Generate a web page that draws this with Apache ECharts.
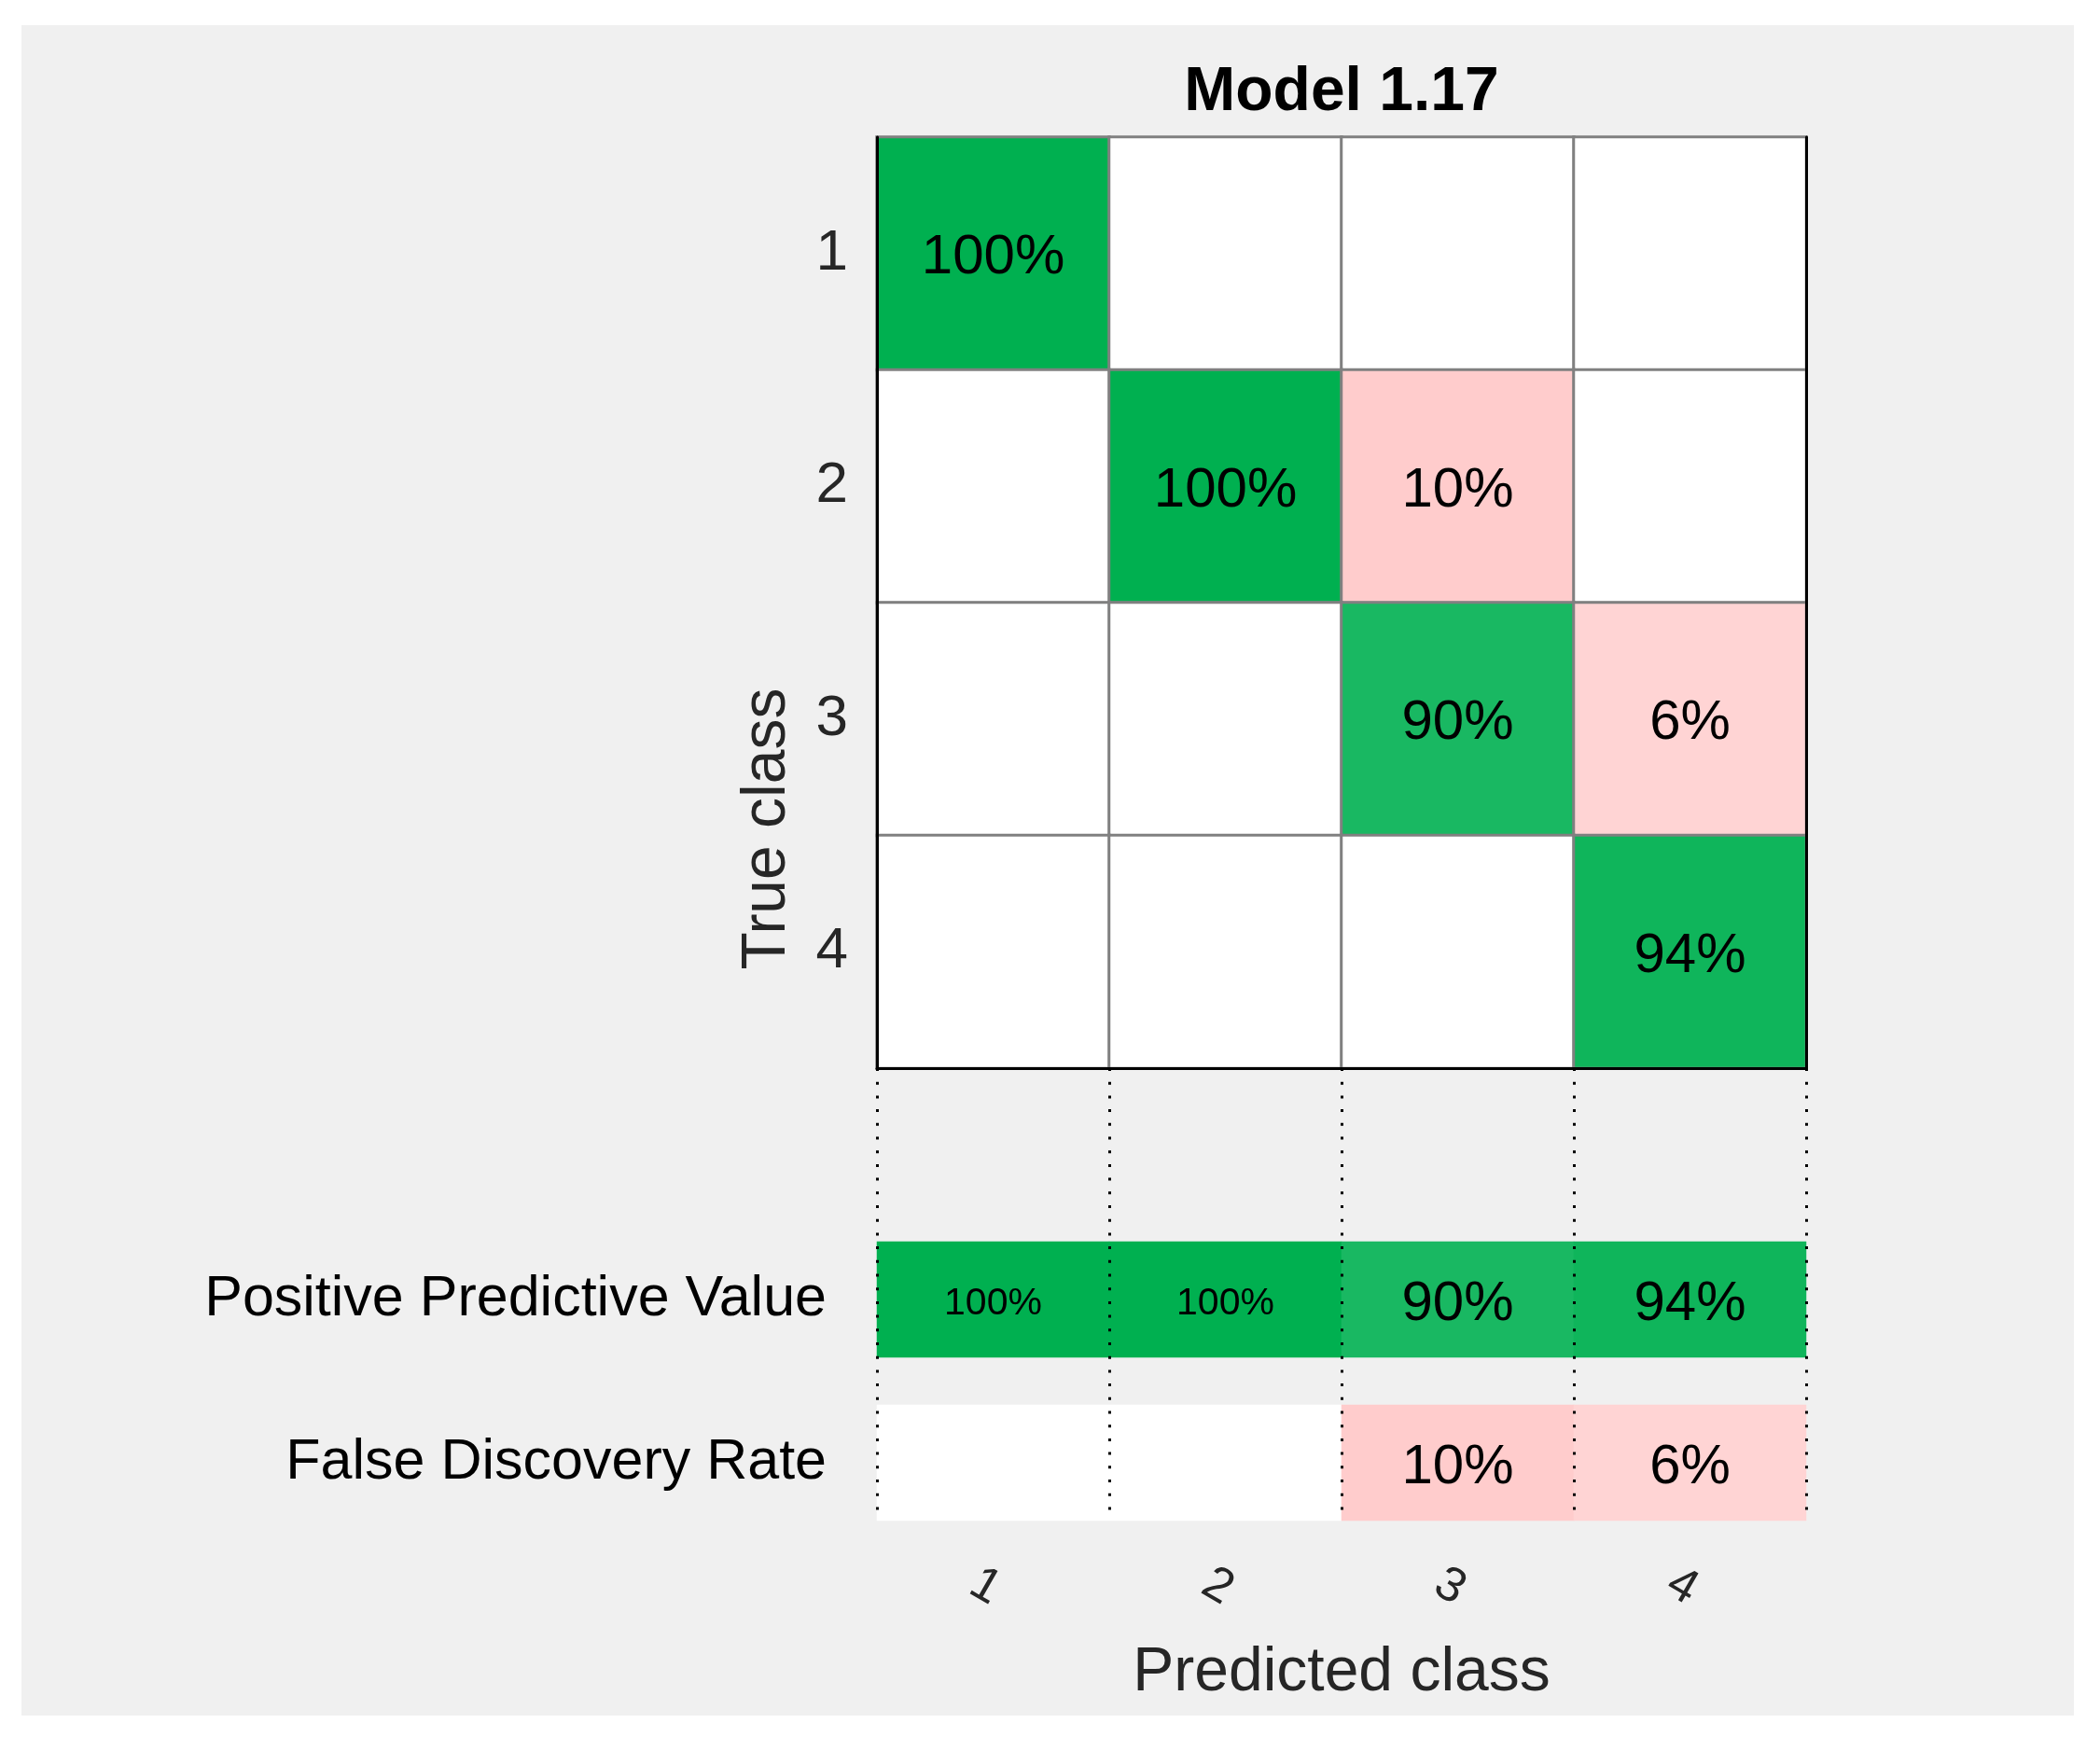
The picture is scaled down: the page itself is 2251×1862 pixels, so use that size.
<!DOCTYPE html>
<html>
<head>
<meta charset="utf-8">
<script src="https://cdn.jsdelivr.net/npm/echarts@6/dist/echarts.min.js"></script>
<style>
  body { margin: 0; background: #ffffff; }
  #panel { position: absolute; left: 23px; top: 27px; width: 2200px; height: 1812px; background: #f0f0f0; }
  #main { position: absolute; left: 0; top: 0; width: 2251px; height: 1862px; }
</style>
</head>
<body>
<div id="panel"></div>
<div id="main"></div>
<script>
// classes, confusion matrix in percent (rows = true class, cols = predicted class)
var classes = ['1', '2', '3', '4'];
var row1 = [100, 0, 0, 0];
var row2 = [0, 100, 10, 0];
var row3 = [0, 0, 90, 6];
var row4 = [0, 0, 0, 94];
var matrixRows = [row1, row2, row3, row4];
var ppvValues = [100, 100, 90, 94];
var fdrValues = [0, 0, 10, 6];

var FONT = 'Liberation Sans';

// green for correct, pink for errors, faded to white by value
function mix(base, f) {
    var c = base.map(function (b) { return Math.round(b * f + 255 * (1 - f)); });
    return 'rgb(' + c.join(',') + ')';
}
function goodColor(v) {
    return v ? mix([0, 176, 80], v / 100) : '#ffffff';
}
function badColor(v) {
    return v ? mix([255, 0, 0], 0.12 + 0.8 * v / 100) : '#ffffff';
}

var matrixData = [];
matrixRows.forEach(function (row, r) {
    row.forEach(function (v, c) {
        matrixData.push({
            value: [c, r, v],
            itemStyle: { color: r === c ? goodColor(v) : badColor(v) }
        });
    });
});

var ppvData = ppvValues.map(function (v, c) {
    var item = { value: [c, 0, v], itemStyle: { color: goodColor(v) } };
    if (v >= 100) {
        item.label = { fontSize: 41 };
    }
    return item;
});

var fdrData = fdrValues.map(function (v, c) {
    return { value: [c, 0, v], itemStyle: { color: badColor(v) } };
});

function pctLabel(p) {
    return p.value[2] ? p.value[2] + '%' : '';
}

var cellLabel = {
    show: true,
    formatter: pctLabel,
    color: '#000',
    fontSize: 60,
    fontFamily: FONT,
    offset: [0, 5]
};

var dom = document.getElementById('main');
var myChart = echarts.init(dom, null, { renderer: 'canvas' });
var option = {
    backgroundColor: 'transparent',
    animation: false,
    grid: [
        { left: 940, top: 147, width: 996, height: 998 },   // matrix
        { left: 940, top: 1331, width: 996, height: 124 },  // PPV
        { left: 940, top: 1506, width: 996, height: 124 },  // FDR
        { left: 940, top: 1145, width: 996, height: 485 },  // dotted guides
        { left: 940, top: 147, width: 996, height: 1483 }   // True class name
    ],
    xAxis: [
        {
            gridIndex: 0, type: 'category', data: classes, position: 'bottom', z: 5,
            axisLine: { lineStyle: { color: '#000', width: 3 } },
            axisTick: { show: false }, axisLabel: { show: false }, splitLine: { show: false }
        },
        {
            gridIndex: 0, type: 'category', data: classes, position: 'top',
            axisLine: { show: false }, axisTick: { show: false }, axisLabel: { show: false },
            name: 'Model 1.17', nameLocation: 'middle', nameGap: 14,
            nameTextStyle: { fontSize: 66, fontWeight: 'bold', color: '#000', fontFamily: FONT }
        },
        {
            gridIndex: 1, type: 'category', data: classes,
            axisLine: { show: false }, axisTick: { show: false }, axisLabel: { show: false }
        },
        {
            gridIndex: 2, type: 'category', data: classes,
            axisLine: { show: false }, axisTick: { show: false },
            axisLabel: {
                rotate: -30, margin: 76, fontSize: 52, color: '#262626', fontFamily: FONT,
                align: 'center', verticalAlign: 'middle', padding: [0, 20, 0, 0]
            },
            name: 'Predicted class', nameLocation: 'middle', nameGap: 131,
            nameTextStyle: { fontSize: 66, color: '#262626', fontFamily: FONT }
        },
        {
            gridIndex: 3, type: 'value', min: 0, max: 4, interval: 1, z: 10,
            axisLine: { show: false }, axisTick: { show: false }, axisLabel: { show: false },
            splitLine: { show: true, lineStyle: { color: '#000', width: 3, type: [3, 11.7], cap: 'butt' } }
        },
        {
            gridIndex: 4, type: 'value', min: 0, max: 1, show: false
        }
    ],
    yAxis: [
        {
            gridIndex: 0, type: 'category', data: classes, inverse: true, z: 5,
            axisLine: { lineStyle: { color: '#000', width: 3 } },
            axisTick: { show: false }, splitLine: { show: false },
            axisLabel: { margin: 31, fontSize: 62, color: '#262626', fontFamily: FONT, padding: [10, 0, 0, 0] }
        },
        {
            gridIndex: 0, type: 'category', data: classes, position: 'right', z: 5,
            axisLine: { lineStyle: { color: '#000', width: 3 } },
            axisTick: { show: false }, axisLabel: { show: false }, splitLine: { show: false }
        },
        {
            gridIndex: 1, type: 'category', data: ['Positive Predictive Value'],
            axisLine: { show: false }, axisTick: { show: false },
            axisLabel: { margin: 54, fontSize: 61, color: '#000', fontFamily: FONT, padding: [8, 0, 0, 0] }
        },
        {
            gridIndex: 2, type: 'category', data: ['False Discovery Rate'],
            axisLine: { show: false }, axisTick: { show: false },
            axisLabel: { margin: 54, fontSize: 61, color: '#000', fontFamily: FONT, padding: [8, 0, 0, 0] }
        },
        {
            gridIndex: 3, type: 'value', min: 0, max: 1, show: false
        },
        {
            gridIndex: 4, type: 'value', min: 0, max: 1,
            axisLine: { show: false }, axisTick: { show: false }, axisLabel: { show: false },
            splitLine: { show: false },
            name: 'True class', nameLocation: 'middle', nameGap: 84,
            nameTextStyle: { fontSize: 66, color: '#262626', fontFamily: FONT }
        }
    ],
    series: [
        {
            name: 'matrix', type: 'heatmap', xAxisIndex: 0, yAxisIndex: 0,
            data: matrixData,
            itemStyle: { borderColor: '#808080', borderWidth: 3 },
            label: cellLabel,
            emphasis: { disabled: true }
        },
        {
            name: 'ppv', type: 'heatmap', xAxisIndex: 2, yAxisIndex: 2,
            data: ppvData,
            label: cellLabel,
            emphasis: { disabled: true }
        },
        {
            name: 'fdr', type: 'heatmap', xAxisIndex: 3, yAxisIndex: 3,
            data: fdrData,
            label: cellLabel,
            emphasis: { disabled: true }
        }
    ]
};
myChart.setOption(option);
</script>
</body>
</html>
